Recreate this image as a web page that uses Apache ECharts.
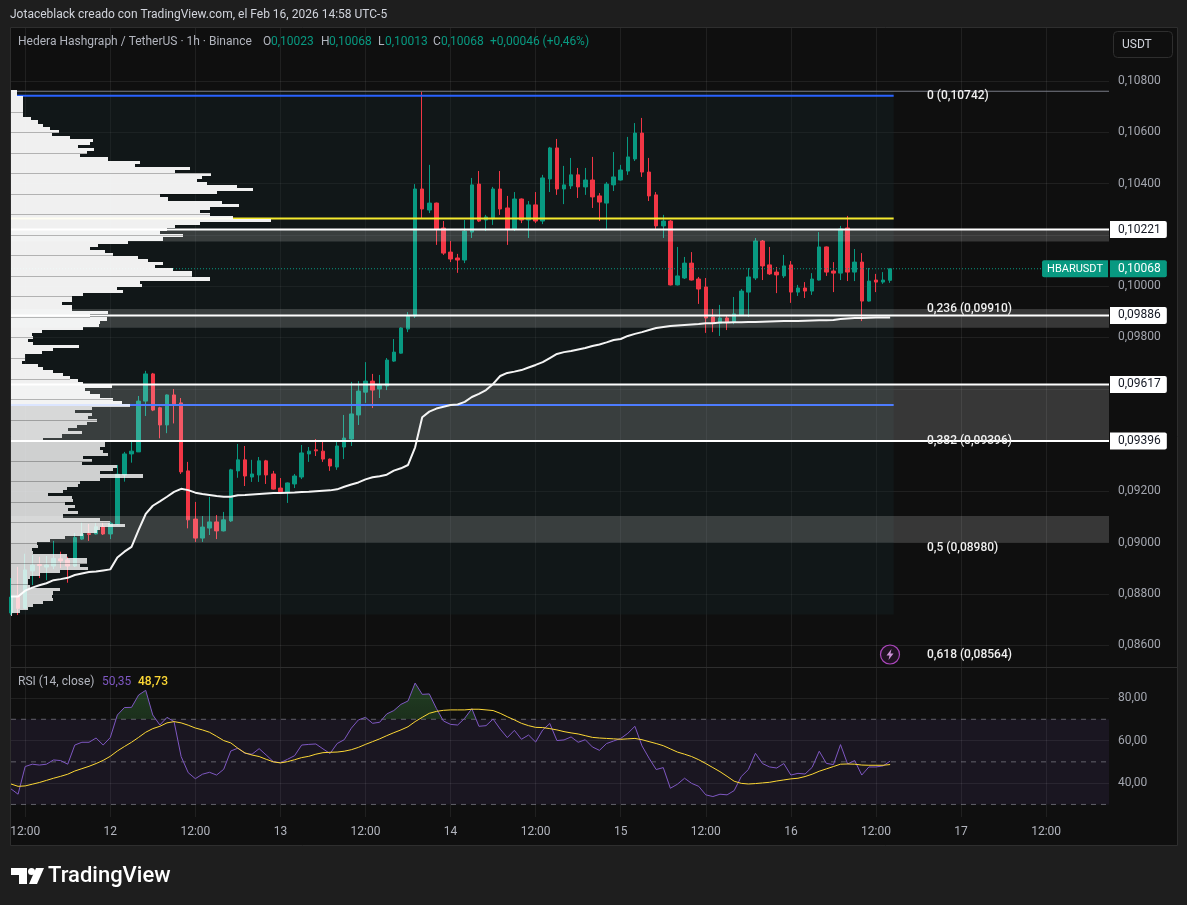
<!DOCTYPE html>
<html>
<head>
<meta charset="utf-8">
<title>HBARUSDT</title>
<script src="https://cdn.jsdelivr.net/npm/echarts@6/dist/echarts.min.js"></script>
<style>
html, body { margin: 0; padding: 0; background: #1e1e1e; }
#chart { width: 1187px; height: 905px; }
</style>
</head>
<body>
<div id="chart"></div>
<script>
// candles, hourly, first one at 10:00 of Feb 11
var opens = [0.08726,0.08793,0.08744,0.08890,0.08915,0.08905,0.08909,0.08937,0.08933,0.08909,
  0.09014,0.09036,0.09034,0.09062,0.09034,0.09073,0.09264,0.09346,0.09354,0.09552,
  0.09658,0.09526,0.09459,0.09576,0.09545,0.09280,0.09092,0.09018,0.09057,0.09081,
  0.09046,0.09085,0.09280,0.09323,0.09256,0.09264,0.09319,0.09268,0.09213,0.09198,
  0.09229,0.09256,0.09346,0.09362,0.09357,0.09326,0.09295,0.09373,0.09404,0.09498,
  0.09587,0.09630,0.09599,0.09611,0.09708,0.09739,0.09833,0.09884,0.10379,0.10297,
  0.10324,0.10227,0.10133,0.10110,0.10102,0.10211,0.10398,0.10258,0.10262,0.10379,
  0.10305,0.10223,0.10340,0.10258,0.10317,0.10254,0.10418,0.10539,0.10379,0.10391,
  0.10434,0.10387,0.10414,0.10352,0.10324,0.10395,0.10414,0.10449,0.10496,0.10597,
  0.10445,0.10356,0.10235,0.10254,0.10005,0.10032,0.10090,0.10028,0.09997,0.09880,
  0.09856,0.09876,0.09860,0.09888,0.09977,0.10032,0.10176,0.10083,0.10055,0.10040,
  0.10083,0.09977,0.09993,0.09981,0.10024,0.10153,0.10059,0.10051,0.10227,0.10055,
  0.10094,0.09942,0.10024,0.10016,0.10023];
var closes = [0.08788,0.08744,0.08894,0.08913,0.08911,0.08913,0.08939,0.08929,0.08909,0.09020,
  0.09034,0.09032,0.09062,0.09034,0.09076,0.09267,0.09346,0.09357,0.09552,0.09658,
  0.09517,0.09459,0.09576,0.09541,0.09276,0.09089,0.09018,0.09061,0.09081,0.09046,
  0.09089,0.09284,0.09323,0.09260,0.09268,0.09319,0.09264,0.09209,0.09198,0.09233,
  0.09260,0.09350,0.09357,0.09358,0.09326,0.09299,0.09377,0.09408,0.09502,0.09591,
  0.09630,0.09595,0.09615,0.09712,0.09743,0.09837,0.09884,0.10379,0.10301,0.10324,
  0.10223,0.10129,0.10106,0.10102,0.10215,0.10395,0.10254,0.10270,0.10379,0.10301,
  0.10223,0.10340,0.10258,0.10317,0.10254,0.10422,0.10539,0.10379,0.10395,0.10434,
  0.10387,0.10414,0.10348,0.10328,0.10398,0.10426,0.10453,0.10504,0.10597,0.10445,
  0.10352,0.10235,0.10254,0.10005,0.10040,0.10090,0.10024,0.09989,0.09876,0.09856,
  0.09876,0.09860,0.09892,0.09981,0.10036,0.10176,0.10079,0.10048,0.10044,0.10079,
  0.09977,0.09993,0.09981,0.10028,0.10153,0.10055,0.10051,0.10223,0.10055,0.10094,
  0.09942,0.10020,0.10016,0.10024,0.10068];
var lows = [0.08718,0.08718,0.08743,0.08835,0.08862,0.08854,0.08897,0.08901,0.08844,0.08905,
  0.09011,0.09007,0.09032,0.09030,0.09014,0.09071,0.09238,0.09312,0.09354,0.09494,
  0.09513,0.09407,0.09427,0.09465,0.09268,0.09056,0.09003,0.09003,0.09030,0.09014,
  0.09044,0.09081,0.09253,0.09221,0.09237,0.09237,0.09229,0.09207,0.09196,0.09155,
  0.09213,0.09248,0.09315,0.09338,0.09315,0.09280,0.09284,0.09326,0.09377,0.09459,
  0.09545,0.09525,0.09564,0.09595,0.09705,0.09737,0.09821,0.09876,0.10266,0.10285,
  0.10161,0.10122,0.10094,0.10052,0.10090,0.10188,0.10250,0.10215,0.10239,0.10278,
  0.10161,0.10215,0.10246,0.10188,0.10246,0.10242,0.10367,0.10356,0.10320,0.10379,
  0.10344,0.10356,0.10305,0.10254,0.10223,0.10371,0.10412,0.10434,0.10488,0.10426,
  0.10332,0.10223,0.10188,0.10003,0.10003,0.10028,0.10022,0.09931,0.09818,0.09821,
  0.09806,0.09829,0.09852,0.09886,0.09880,0.10024,0.10024,0.10044,0.09973,0.10032,
  0.09935,0.09962,0.09954,0.09966,0.10022,0.10040,0.09977,0.10024,0.10020,0.10020,
  0.09864,0.09940,0.09977,0.10009,0.10013];
var highs = [0.08862,0.08906,0.08957,0.08952,0.08945,0.08948,0.09007,0.08965,0.08945,0.09038,
  0.09080,0.09073,0.09077,0.09078,0.09082,0.09303,0.09354,0.09396,0.09572,0.09670,
  0.09662,0.09530,0.09578,0.09599,0.09564,0.09315,0.09159,0.09104,0.09179,0.09108,
  0.09120,0.09288,0.09385,0.09377,0.09323,0.09334,0.09323,0.09280,0.09252,0.09235,
  0.09268,0.09381,0.09373,0.09404,0.09396,0.09328,0.09400,0.09498,0.09627,0.09630,
  0.09704,0.09658,0.09654,0.09720,0.09794,0.09839,0.09899,0.10398,0.10758,0.10473,
  0.10326,0.10254,0.10176,0.10126,0.10258,0.10422,0.10449,0.10278,0.10387,0.10449,
  0.10352,0.10367,0.10342,0.10332,0.10367,0.10434,0.10543,0.10574,0.10469,0.10500,
  0.10461,0.10461,0.10504,0.10363,0.10406,0.10523,0.10473,0.10582,0.10636,0.10656,
  0.10500,0.10367,0.10278,0.10258,0.10153,0.10114,0.10133,0.10036,0.10032,0.09911,
  0.09927,0.09884,0.09958,0.09989,0.10071,0.10188,0.10180,0.10153,0.10075,0.10122,
  0.10098,0.10005,0.10016,0.10051,0.10211,0.10155,0.10094,0.10235,0.10274,0.10145,
  0.10129,0.10071,0.10048,0.10055,0.10068];
// anchored vwap, one value per candle
var vwap = [0.08790,0.08790,0.08813,0.08825,0.08834,0.08842,0.08854,0.08858,0.08863,0.08874,
  0.08880,0.08886,0.08888,0.08892,0.08896,0.08942,0.08965,0.08984,0.09050,0.09112,
  0.09144,0.09161,0.09179,0.09198,0.09210,0.09205,0.09195,0.09190,0.09186,0.09182,
  0.09179,0.09179,0.09185,0.09186,0.09188,0.09190,0.09192,0.09194,0.09194,0.09195,
  0.09196,0.09198,0.09199,0.09201,0.09203,0.09204,0.09208,0.09218,0.09227,0.09235,
  0.09247,0.09255,0.09259,0.09265,0.09281,0.09290,0.09303,0.09372,0.09489,0.09511,
  0.09523,0.09530,0.09537,0.09539,0.09549,0.09568,0.09580,0.09595,0.09619,0.09650,
  0.09662,0.09667,0.09673,0.09683,0.09693,0.09704,0.09720,0.09736,0.09743,0.09747,
  0.09753,0.09759,0.09767,0.09773,0.09781,0.09790,0.09794,0.09806,0.09814,0.09821,
  0.09829,0.09837,0.09841,0.09845,0.09847,0.09849,0.09851,0.09853,0.09856,0.09856,
  0.09858,0.09858,0.09859,0.09859,0.09860,0.09860,0.09861,0.09862,0.09863,0.09864,
  0.09864,0.09864,0.09865,0.09866,0.09867,0.09867,0.09868,0.09872,0.09874,0.09876,
  0.09876,0.09877,0.09878,0.09878,0.09878];
var rsi = [37.3,34.8,47.8,48.9,48.5,48.9,50.9,50.6,48.9,57.9,
  59.2,59.2,61.2,57.9,61.4,72.0,75.5,75.6,81.4,83.6,
  72.0,67.3,70.9,68.9,52.5,44.9,42.1,44.2,45.1,43.8,
  46.5,55.1,56.4,54.0,53.6,56.2,53.2,50.1,49.6,51.2,
  52.9,57.9,58.2,58.4,56.1,53.9,58.6,60.4,65.8,69.7,
  70.9,68.1,68.6,72.5,74.1,77.0,78.6,87.0,81.7,81.9,
  75.1,69.2,67.6,67.3,70.5,75.0,66.7,67.0,70.1,65.4,
  61.4,64.8,60.6,62.6,59.3,65.0,68.0,60.0,60.3,61.7,
  59.2,60.4,57.0,55.4,58.6,59.8,61.0,63.4,66.7,57.5,
  51.7,46.4,47.3,37.6,39.5,42.3,39.9,38.5,34.5,33.7,
  34.8,34.5,36.5,43.1,46.4,54.0,49.2,47.6,47.1,49.2,
  43.8,44.6,44.3,47.4,55.0,49.3,48.7,58.1,49.0,50.6,
  43.8,47.6,47.6,48.1,50.35];
var rsiMa = [39.6,38.5,38.7,39.5,40.3,41.3,42.3,43.2,44.2,45.7,
  46.8,47.9,49.2,50.7,52.6,55.1,57.2,59.2,61.5,63.9,
  65.6,66.7,68.3,68.9,68.3,67.2,65.9,65.0,63.9,62.0,
  60.0,58.9,56.4,54.2,53.2,52.5,51.2,50.0,49.5,50.1,
  51.0,52.0,52.6,53.6,54.3,54.5,54.6,55.0,55.7,56.8,
  58.2,59.5,60.8,62.3,63.7,65.0,66.5,68.9,70.9,72.8,
  73.7,74.2,74.4,74.4,74.4,74.7,74.7,74.4,74.1,72.8,
  71.2,69.7,68.1,67.0,66.2,66.1,65.6,65.0,64.2,63.6,
  63.1,62.3,61.5,61.2,61.0,60.8,60.6,60.8,61.0,60.4,
  59.5,58.6,57.6,56.1,54.6,53.6,52.5,51.0,49.2,47.3,
  45.4,43.2,40.9,39.9,39.6,39.8,40.1,40.4,41.0,41.5,
  42.0,42.3,43.1,44.2,45.6,46.7,47.8,48.9,49.0,48.9,
  48.5,48.4,48.4,48.4,48.73];
// volume profile rows, from the top row down
var profileTop = 0.1076;
var profileRow = 0.00012;
var profileVolumes = [6,6,12,12,12,12,12,12,12,20,27,32,39,48,41,59,82,79,67,83,
  76,69,97,129,124,179,164,200,191,186,196,226,242,206,149,157,211,228,199,189,
  199,222,260,189,164,156,149,172,152,117,87,79,94,102,127,137,152,144,162,181,
  181,199,129,131,106,112,72,61,61,51,61,61,97,79,96,89,88,72,31,21,
  22,17,22,68,42,31,14,14,11,27,32,42,52,59,67,72,101,74,79,89,
  102,111,119,81,64,81,77,86,76,66,57,71,51,32,94,94,89,92,97,72,
  81,71,106,102,89,132,89,69,67,56,52,37,61,62,54,64,57,67,52,89,
  99,114,89,86,72,54,39,26,27,21,22,56,76,76,69,77,49,29,19,17,
  17,19,49,42,41,42,32,22,17,9,1];
var profileSeparators = [0.1068,0.1060,0.1052,0.1044,0.1036,0.1028,0.1020,0.1012,0.1004,0.0996,0.0988,0.0980,
  0.0972,0.0964,0.0956,0.0948,0.0940,0.0932,0.0924,0.0916,0.0908,0.0900,0.0892,0.0884];
var profileSplit = 0.09537;   // brighter above this price

var priceTicks = [0.108,0.106,0.104,0.102,0.100,0.098,0.096,0.094,0.092,0.090,0.088,0.086];
var priceTickLabels = [0.108,0.106,0.104,0.100,0.098,0.092,0.090,0.088,0.086];
var timeTicks = [0,12,24,36,48,60,72,84,96,108,120,132,144];
var timeTickLabels = ['12:00','12','12:00','13','12:00','14','12:00','15','12:00','16','12:00','17','12:00'];
var rsiTicks = [80,60,40];
var rsiLevels = [70,50,30];

var levelPrices = [0.10221,0.09886,0.09617,0.09396];
var bands = [[0.10221,0.10174],[0.09911,0.09838],[0.09617,0.09396],[0.09104,0.09001]];
var fibRatios = ['0','0,236','0,382','0,5','0,618'];
var fibPrices = [0.10742,0.09910,0.09396,0.08980,0.08564];
var lastPrice = 0.10068;

var xMin = -2, xMax = 152.87;
var rectEnd = 122.5, rectTop = 0.1076, rectBottom = 0.0872;
var fibLabelX = 127.2;

var UP = '#089981', DOWN = '#F23645';
var GRID_LINE = 'rgba(255,255,255,0.075)';
var FONT = 'Roboto';

function fmt(v, d) { return v.toFixed(d).replace('.', ','); }

function segment(price, from, to, color, width, z, type) {
  return {
    type: 'line', xAxisIndex: 0, yAxisIndex: 0, z: z, silent: true,
    symbol: 'none', data: [[from, price], [to, price]],
    lineStyle: { color: color, width: width, type: type || 'solid' }
  };
}

function rectRender(params, api) {
  var a = api.coord([api.value(0), api.value(2)]);
  var b = api.coord([api.value(1), api.value(3)]);
  return {
    type: 'rect',
    shape: { x: a[0], y: a[1], width: b[0] - a[0], height: b[1] - a[1] },
    style: { fill: api.visual('color') }
  };
}

function priceTag(price, text, bg, color, pos, radius, z, size, padding) {
  return {
    type: 'scatter', xAxisIndex: 0, yAxisIndex: 0, z: z, silent: true,
    symbolSize: 0, data: [[xMax, price]], itemStyle: { opacity: 1 },
    label: {
      show: true, position: pos, distance: 1, formatter: text, opacity: 1,
      backgroundColor: bg, color: color, fontSize: size || 12, fontFamily: FONT,
      padding: padding || [2, 6, 2, 8], lineHeight: 13, borderRadius: radius
    }
  };
}

function plainAxisX(grid, showLabels) {
  return {
    type: 'value', gridIndex: grid, min: xMin, max: xMax, position: 'bottom',
    axisLine: { show: false },
    axisTick: { show: false, customValues: timeTicks },
    splitLine: { show: true, lineStyle: { color: GRID_LINE, width: 1 } },
    axisLabel: {
      show: showLabels, customValues: timeTicks, color: '#b2b5be', fontSize: 12, margin: 9, fontFamily: FONT,
      formatter: function (v) { return timeTickLabels[timeTicks.indexOf(v)]; }
    }
  };
}

var series = [];

// fib rectangle behind everything
series.push({
  type: 'custom', xAxisIndex: 0, yAxisIndex: 0, z: 1, silent: true,
  renderItem: rectRender, itemStyle: { color: 'rgba(24,40,44,0.35)' },
  data: [[xMin, rectEnd, rectTop, rectBottom]]
});

series.push({
  type: 'candlestick', xAxisIndex: 0, yAxisIndex: 0, z: 2, silent: true,
  barWidth: 4,
  itemStyle: { color: UP, color0: DOWN, borderColor: UP, borderColor0: DOWN, borderWidth: 1 },
  data: opens.map(function (o, k) { return [k - 2, o, closes[k], lows[k], highs[k]]; })
});

series.push(segment(0.10742, -1.2, rectEnd, '#2962ff', 2, 3));
series.push(segment(0.09537, xMin, rectEnd, '#2962ff', 2, 3));
series.push(segment(0.10264, xMin, rectEnd, '#f5ea2e', 2, 3));
series.push(segment(0.1076, xMin, xMax, '#787b86', 1.2, 3));
series.push(segment(lastPrice, xMin, xMax, UP, 1.2, 3, [1, 2]));

series.push({
  type: 'custom', xAxisIndex: 0, yAxisIndex: 0, z: 4, silent: true,
  renderItem: rectRender, itemStyle: { color: 'rgba(255,255,255,0.17)' },
  data: bands.map(function (b) { return [xMin, xMax, b[0], b[1]]; })
});

series.push({
  type: 'line', xAxisIndex: 0, yAxisIndex: 0, z: 5, silent: true, symbol: 'none',
  lineStyle: { color: '#f4f4f4', width: 2 },
  data: vwap.map(function (v, k) { return [k - 2, v]; })
});

// volume profile, on its own hidden x axis. rows snapped to whole pixels or the seams show
series.push({
  type: 'custom', xAxisIndex: 1, yAxisIndex: 0, z: 6, silent: true,
  renderItem: function (params, api) {
    var price = api.value(1);
    var a = api.coord([0, price + profileRow / 2]);
    var b = api.coord([api.value(0), price - profileRow / 2]);
    var y0 = Math.round(a[1]), y1 = Math.round(b[1]);
    return {
      type: 'rect',
      shape: { x: a[0], y: y0, width: b[0] - a[0], height: y1 - y0 },
      style: { fill: price > profileSplit ? 'rgba(255,255,255,0.937)' : 'rgba(255,255,255,0.8)' }
    };
  },
  data: profileVolumes.map(function (v, k) { return [v, profileTop - k * profileRow]; })
});
series.push({
  type: 'custom', xAxisIndex: 1, yAxisIndex: 0, z: 6, silent: true,
  renderItem: function (params, api) {
    var a = api.coord([0, api.value(1)]);
    var b = api.coord([api.value(0), api.value(1)]);
    return {
      type: 'rect', shape: { x: a[0], y: Math.round(a[1]), width: b[0] - a[0], height: 1 },
      style: { fill: 'rgba(0,0,0,0.26)' }
    };
  },
  data: profileSeparators.map(function (p) {
    return [profileVolumes[Math.round((profileTop - p) / profileRow)], p];
  })
});

levelPrices.forEach(function (p) {
  series.push(segment(p, xMin, xMax, '#ffffff', 2, 7));
  series.push(priceTag(p, fmt(p, 5), '#ffffff', '#131722', 'right', [0, 2, 2, 0], 9));
});
series.push(priceTag(lastPrice, fmt(lastPrice, 5), UP, '#ffffff', 'right', [0, 2, 2, 0], 9));
series.push(priceTag(lastPrice, 'HBARUSDT', UP, '#ffffff', 'left', [2, 0, 0, 2], 9, 11, [2, 5, 2, 5]));

series.push({
  type: 'scatter', xAxisIndex: 0, yAxisIndex: 0, z: 8, silent: true, symbolSize: 0,
  itemStyle: { opacity: 1 },
  data: fibPrices.map(function (p) { return [fibLabelX, p]; }),
  label: {
    show: true, position: 'right', distance: 0, color: '#f0f0f0', fontSize: 12, fontWeight: 500, fontFamily: FONT, opacity: 1,
    formatter: function (d) { return fibRatios[d.dataIndex] + ' (' + fmt(fibPrices[d.dataIndex], 5) + ')'; }
  }
});

// rsi pane
series.push({
  type: 'custom', xAxisIndex: 2, yAxisIndex: 1, z: 1, silent: true,
  renderItem: rectRender, itemStyle: { color: 'rgba(126,87,194,0.1)' },
  data: [[xMin, xMax, rsiLevels[0], rsiLevels[2]]]
});
rsiLevels.forEach(function (lv) {
  series.push({
    type: 'line', xAxisIndex: 2, yAxisIndex: 1, z: 2, silent: true, symbol: 'none',
    lineStyle: { color: 'rgba(160,163,172,0.55)', width: 1, type: [5, 5] },
    data: [[xMin, lv], [xMax, lv]]
  });
});
series.push({
  type: 'line', xAxisIndex: 3, yAxisIndex: 2, z: 2, silent: true, symbol: 'none',
  lineStyle: { width: 0 },
  areaStyle: {
    origin: 'start',
    color: new echarts.graphic.LinearGradient(0, 0, 0, 1, [
      { offset: 0, color: 'rgba(76,175,80,0.42)' },
      { offset: 1, color: 'rgba(76,175,80,0.02)' }
    ])
  },
  data: rsi.map(function (v, k) { return [k - 2, v]; })
});
series.push({
  type: 'line', xAxisIndex: 2, yAxisIndex: 1, z: 3, silent: true, symbol: 'none',
  lineStyle: { color: '#7e57c2', width: 1 },
  data: rsi.map(function (v, k) { return [k - 2, v]; })
});
series.push({
  type: 'line', xAxisIndex: 2, yAxisIndex: 1, z: 4, silent: true, symbol: 'none',
  lineStyle: { color: '#fdd835', width: 1 },
  data: rsiMa.map(function (v, k) { return [k - 2, v]; })
});

function label(x, y, text, color, size, weight) {
  return {
    type: 'text', x: x, y: y, z: 10, silent: true,
    style: {
      text: text, fill: color, font: (weight || 400) + ' ' + (size || 12) + 'px ' + FONT,
      textVerticalAlign: 'middle'
    }
  };
}

var GREY = '#b2b5be', TEAL = '#089981';
var graphics = [
  { type: 'rect', z: -2, silent: true, shape: { x: 10.5, y: 27.5, width: 1167, height: 818 },
    style: { fill: '#0f0f0f', stroke: '#2e2e2e', lineWidth: 1 } },
  { type: 'rect', z: -1, silent: true, shape: { x: 11, y: 667, width: 1166, height: 1 }, style: { fill: '#2e2e2e' } },
  label(10, 15, 'Jotaceblack creado con TradingView.com, el Feb 16, 2026 14:58 UTC-5', '#d1d4dc'),
  label(18, 42, 'Hedera Hashgraph / TetherUS · 1h · Binance', GREY),
  label(263, 42, 'O', GREY), label(271, 42, '0,10023', TEAL),
  label(321, 42, 'H', GREY), label(329, 42, '0,10068', TEAL),
  label(378, 42, 'L', GREY), label(385, 42, '0,10013', TEAL),
  label(433, 42, 'C', GREY), label(441, 42, '0,10068', TEAL),
  label(490, 42, '+0,00046 (+0,46%)', TEAL),
  { type: 'rect', z: 10, silent: true, shape: { x: 1113.5, y: 31.5, width: 59, height: 26, r: 4 },
    style: { fill: '#0f0f0f', stroke: '#2e2e2e', lineWidth: 1 } },
  label(1122, 45, 'USDT', '#d1d4dc'),
  label(18, 682, 'RSI (14, close)', GREY),
  label(102, 682, '50,35', '#7e57c2'),
  label(138, 682, '48,73', '#fdd835', 12, 500),
  { type: 'circle', z: 10, silent: true, shape: { cx: 890, cy: 654.5, r: 9.5 },
    style: { fill: 'rgba(156,39,176,0.12)', stroke: '#ab47bc', lineWidth: 1.2 } },
  { type: 'polygon', z: 10, silent: true, shape: { points: [[891.5, 649], [886.5, 655.5], [889.5, 655.5], [888.5, 660], [893.5, 653.5], [890.5, 653.5]] },
    style: { fill: '#ce93d8' } },
  // logo
  { type: 'polygon', z: 10, silent: true, shape: { points: [[11, 868], [27, 868], [27, 884], [19, 884], [19, 875], [11, 875]] }, style: { fill: '#ffffff' } },
  { type: 'circle', z: 10, silent: true, shape: { cx: 31.5, cy: 871.5, r: 3.5 }, style: { fill: '#ffffff' } },
  { type: 'polygon', z: 10, silent: true, shape: { points: [[36, 868], [44, 868], [37, 884], [29, 884]] }, style: { fill: '#ffffff' } },
  label(48, 876, 'TradingView', '#ffffff', 22, 500)
];

var option = {
  animation: false,
  backgroundColor: '#1e1e1e',
  textStyle: { fontFamily: FONT },
  tooltip: { show: false },
  legend: { show: false },
  graphic: graphics,
  grid: [
    { left: 11, top: 28, width: 1098, height: 639 },
    { left: 11, top: 668, width: 1098, height: 149 },
    { left: 11, top: 668, width: 1098, height: 51 }
  ],
  xAxis: [
    plainAxisX(0, false),
    { type: 'value', gridIndex: 0, min: 0, max: 1098, show: false },
    plainAxisX(1, true),
    { type: 'value', gridIndex: 2, min: xMin, max: xMax, show: false }
  ],
  yAxis: [
    {
      type: 'value', gridIndex: 0, position: 'right', min: 0.085154, max: 0.110066, scale: true,
      axisLine: { show: false },
      axisTick: { show: false, customValues: priceTicks },
      splitLine: { show: true, lineStyle: { color: GRID_LINE, width: 1 } },
      axisLabel: {
        customValues: priceTickLabels, color: '#a3a6af', fontSize: 12, margin: 9, fontFamily: FONT,
        formatter: function (v) { return fmt(v, 5); }
      }
    },
    {
      type: 'value', gridIndex: 1, position: 'right', min: 24.1, max: 94.08,
      axisLine: { show: false },
      axisTick: { show: false, customValues: rsiTicks },
      splitLine: { show: true, lineStyle: { color: GRID_LINE, width: 1 } },
      axisLabel: {
        customValues: rsiTicks, color: '#a3a6af', fontSize: 12, margin: 9, fontFamily: FONT,
        formatter: function (v) { return fmt(v, 2); }
      }
    },
    { type: 'value', gridIndex: 2, min: 70, max: 94.08, show: false }
  ],
  series: series
};

var myChart = echarts.init(document.getElementById('chart'));
myChart.setOption(option);
</script>
</body>
</html>
